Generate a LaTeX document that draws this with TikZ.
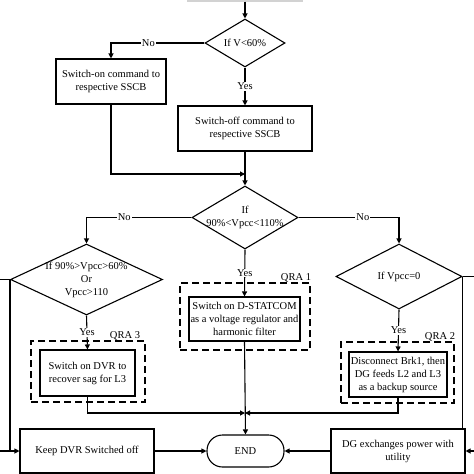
\documentclass[tikz,border=0pt]{standalone}
\usepackage{fontspec}
\setmainfont{Liberation Serif}
\usetikzlibrary{arrows.meta}
\usetikzlibrary{shapes.geometric}

\begin{document}
\begin{tikzpicture}[x=1pt,y=-1pt,line width=1.1pt,
  >={Triangle[length=5pt,width=5pt]},
  font=\fontsize{10.5}{13}\selectfont,
  box/.style={draw,rectangle,inner sep=0pt,align=center},
  dec/.style={draw,diamond,inner sep=0pt},
  qra/.style={draw,rectangle,dashed,dash pattern=on 7pt off 4pt,line width=1.3pt,inner sep=0pt},
  lbl/.style={fill=white,inner sep=1pt}]
\useasboundingbox (0,0) rectangle (474,474);
\clip (0,0) rectangle (474,474);

\coordinate (lin) at (0,279.5);
\coordinate (lin2) at (0,451);
\coordinate (rin) at (474,276.5);
\coordinate (rin2) at (474,451);
\coordinate (j1) at (245,174);
\coordinate (j2) at (245,413);

\node[qra,minimum width=114pt,minimum height=61pt] (q3) at (88,371.5) {};
\node[qra,minimum width=130pt,minimum height=67pt] (q1) at (245,316.5) {};
\node[qra,minimum width=113pt,minimum height=61pt] (q2) at (397.5,372.5) {};
\node (q3l) at (125,336) {QRA 3};
\node (q1l) at (296,278) {QRA 1};
\node (q2l) at (440,337) {QRA 2};

\node[box,draw=gray!35,minimum width=114pt,minimum height=44pt] (start) at (245,-21) {};
\node[dec,minimum width=80pt,minimum height=48pt,label={center:If V<60\%}] (d1) at (245,43) {};
\node[box,minimum width=110pt,minimum height=45pt] (on) at (111,81.5) {Switch-on command to\\respective SSCB};
\node[box,minimum width=134pt,minimum height=45pt] (off) at (245,128.5) {Switch-off command to\\respective SSCB};
\node[dec,minimum width=106pt,minimum height=63pt,label={[align=center]center:If\\90\%<Vpcc<110\%}] (d2) at (245,217.5) {};
\node[dec,minimum width=152pt,minimum height=71pt,label={[align=center]center:If 90\%>Vpcc>60\%\\Or\\Vpcc>110}] (d3) at (86.5,279.5) {};
\node[dec,minimum width=126pt,minimum height=65pt,label={center:If Vpcc=0}] (d4) at (399,276.5) {};
\node[box,minimum width=95pt,minimum height=46pt] (in3) at (87.5,373) {Switch on DVR to\\recover sag for L3};
\node[box,minimum width=111pt,minimum height=44pt] (in1) at (244.5,319) {Switch on D-STATCOM\\as a voltage regulator and\\harmonic filter};
\node[box,minimum width=98pt,minimum height=45pt] (in2) at (398,374.5) {Disconnect Brk1, then\\DG feeds L2 and L3\\as a backup source};
\node[box,minimum width=134pt,minimum height=44pt] (keep) at (87,451) {Keep DVR Switched off};
\node[box,minimum width=134pt,minimum height=44pt] (dg) at (398,451) {DG exchanges power with\\utility};
\node[box,rounded corners=15.5pt,minimum width=77pt,minimum height=32pt] (endn) at (245.5,451) {END};

\draw[->] (start.south) -- (d1.north);
\draw[->] (d1.west) -| node[lbl,pos=0.3]{No} (on.north);
\draw[->] (d1.south) -- node[lbl]{Yes} (off.north);
\draw[->] (on.south) |- (j1);
\draw[->] (off.south) -- (d2.north);
\draw[->] (d2.west) -| node[lbl,pos=0.32]{No} (d3.north);
\draw[->] (d2.east) -| node[lbl,pos=0.32]{No} (d4.north);
\draw[->] (d2.south) -- node[lbl]{Yes} (in1.north);
\draw[->] (d3.south) -- node[lbl]{Yes} (in3.north);
\draw[->] (d4.south) -- node[lbl]{Yes} (in2.north);
\draw[->] (in1.south) -- (endn.north);
\draw[->] (in3.south) |- (j2);
\draw[->] (in2.south) |- (j2);
\draw[->] (keep.east) -- (endn.west);
\draw[->] (dg.west) -- (endn.east);
\draw (lin) -- (d3.west);
\draw (d3.west) -- (d3.west |- keep.west);
\draw[->] (lin2) -- (keep.west);
\draw (rin) -- (d4.east);
\draw (d4.east) -- (d4.east |- dg.north);
\draw[->] (rin2) -- (dg.east);

\end{tikzpicture}
\end{document}
